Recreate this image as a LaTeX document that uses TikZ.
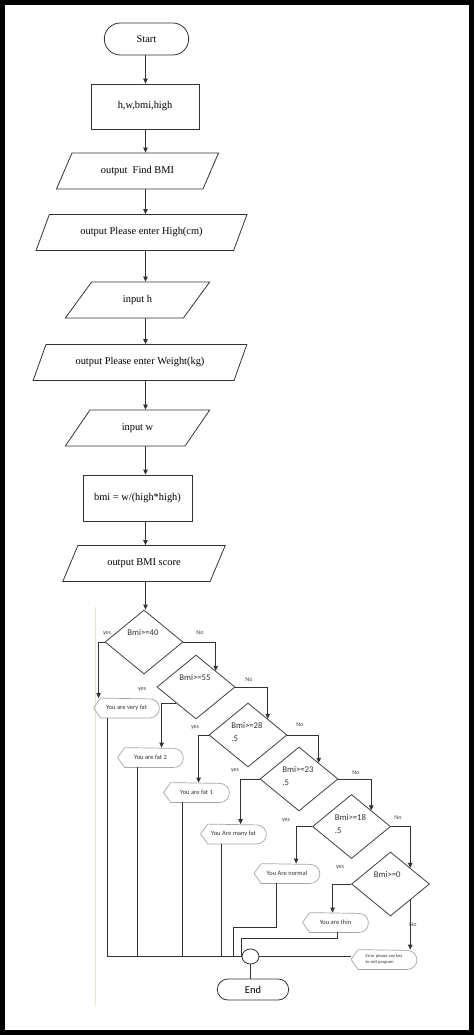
\documentclass[tikz,border=0pt]{standalone}
\usepackage{fontspec}
\setmainfont{Liberation Serif}
\newfontfamily\calibri{Carlito}
\usepackage{tikz}
\usetikzlibrary{shapes,arrows.meta,positioning}

\begin{document}
\begin{tikzpicture}[
  x=1pt, y=-1pt,
  >={Triangle[length=5pt,width=4.5pt]},
  line width=0.8pt,
  term/.style={rounded rectangle, draw=black!80, font=\fontsize{10.4}{12}\selectfont},
  proc/.style={rectangle, draw=black!80, font=\fontsize{10.4}{12}\selectfont},
  io/.style={trapezium, trapezium left angle=52, trapezium right angle=128,
             trapezium stretches=true,
             draw=black!80, minimum height=36pt, inner sep=1pt,
             font=\fontsize{10.4}{12}\selectfont},
  decision/.style={diamond, draw=black!75, minimum width=78pt, minimum height=64pt, inner sep=0pt},
  dtext/.style={anchor=north west, inner sep=0pt, align=left, text=black!80,
                font=\calibri\fontsize{8.7}{13}\selectfont},
  disp/.style={minimum width=65pt, minimum height=19pt, inner sep=0pt, text=black!80,
               font=\calibri\fontsize{6.5}{7}\selectfont},
  displine/.style={draw=black!35, line width=0.7pt},
  lbl/.style={inner sep=0pt, text=black!75, font=\calibri\fontsize{6}{7}\selectfont},
  arr/.style={->, draw=black!80},
  link/.style={draw=black!80}
]
\useasboundingbox (0,0) rectangle (474,1035);
\draw[line width=5pt, fill=white] (2.5,2.5) rectangle (471.5,1032.5);
\draw[draw={rgb,255:red,246;green,226;blue,180}, line width=0.8pt] (95,607) -- (95,1005);

% --- Input part ---
\node[term, minimum width=91pt, minimum height=32pt] (start) at (146.5,39) {Start};
\node[proc, minimum width=108pt, minimum height=45pt] (vars) at (145,106.5) {h,w,bmi,high};
\node[io, minimum width=163pt] (find)   at (137.5,171)   {output\ \ Find BMI};
\node[io, minimum width=211pt] (high)   at (141.5,232.5) {output Please enter High(cm)};
\node[io, minimum width=145pt] (inh)    at (137.5,300)   {input h};
\node[io, minimum width=214pt] (weight) at (140,362.5)   {output Please enter Weight(kg)};
\node[io, minimum width=145pt] (inw)    at (137.5,428)   {input w};
\node[proc, minimum width=109pt, minimum height=46pt] (calc) at (137.5,498) {bmi = w/(high*high)};
\node[io, minimum width=164pt] (score)  at (144,563.5)   {output BMI score};

% --- Decisions ---
\node[decision] (d1) at (144,642)     {};
\node[decision] (d2) at (196,687)     {};
\node[decision] (d3) at (248,735)     {};
\node[decision] (d4) at (299,779)     {};
\node[decision] (d5) at (351.5,826.5) {};
\node[decision] (d6) at (390.5,884)   {};

\node[dtext] (t1) at ([xshift=-17pt,yshift=12.5pt]d1.center) {Bmi>=40};
\node[dtext] (t2) at ([xshift=-17pt,yshift=12.5pt]d2.center) {Bmi>=55};
\node[dtext] (t3) at ([xshift=-17pt,yshift=12.5pt]d3.center) {Bmi>=28\\.5};
\node[dtext] (t4) at ([xshift=-17pt,yshift=12.5pt]d4.center) {Bmi>=23\\.5};
\node[dtext] (t5) at ([xshift=-17pt,yshift=12.5pt]d5.center) {Bmi>=18\\.5};
\node[dtext] (t6) at ([xshift=-17pt,yshift=12.5pt]d6.center) {Bmi>=0};

% --- Outputs ---
\node[disp] (vfat)   at (126.5,708)   {You are very fat};
\node[disp] (fat2)   at (150.5,757.5) {You are fat 2};
\node[disp] (fat1)   at (196.5,792.5) {You are fat 1};
\node[disp] (many)   at (233.5,834)   {You Are many fat};
\node[disp] (normal) at (287,873.5)   {You Are normal};
\node[disp] (thin)   at (335.5,922.5) {You are thin};
\node[disp, align=left, font=\calibri\fontsize{4.5}{6.5}\selectfont] (err) at (384,959.5)
  {Error please any key\\to exit program};

\foreach \n in {vfat,fat2,fat1,many,normal,thin,err}
  \draw[displine] ([xshift=7pt]\n.north west) -- (\n.west) -- ([xshift=7pt]\n.south west)
    -- ([xshift=-9.5pt]\n.south east) arc[start angle=-90, end angle=90, radius=9.5pt] -- cycle;

\node[ellipse, draw=black!80, minimum width=17pt, minimum height=15pt, inner sep=0pt] (jn) at (250.5,956.5) {};
\node[term, minimum width=78pt, minimum height=21pt, font=\calibri\fontsize{10.5}{12}\selectfont] (end) at (253,989.5) {End};

% --- Labels ---
\node[lbl] (y1) at (107,634) {yes};
\node[lbl] (n1) at (200,633) {No};
\node[lbl] (y2) at (142,690) {yes};
\node[lbl] (n2) at (249,680) {No};
\node[lbl] (y3) at (195,728) {yes};
\node[lbl] (n3) at (300,725) {No};
\node[lbl] (y4) at (235,771) {yes};
\node[lbl] (n4) at (356,773) {No};
\node[lbl] (y5) at (286,821) {yes};
\node[lbl] (n5) at (398,818) {No};
\node[lbl] (y6) at (340,868) {yes};
\node[lbl] (n6) at (413,925) {No};

% --- Flow ---
\coordinate (axis) at (145.5,0);
\foreach \a/\b in {start/vars, vars/find, find/high, high/inh, inh/weight,
                   weight/inw, inw/calc, calc/score, score/d1}
  \draw[arr] (\a.south -| axis) -- (\b.north -| axis);

\foreach \a/\b in {d1/d2, d2/d3, d3/d4, d4/d5, d5/d6}
  \draw[arr] (\a.east) -| (\b.north east);

\draw[arr] (d1.west) -| ([xshift=5pt]vfat.north west);
\draw[arr] (d2.south west) -| ([xshift=44pt]fat2.north west);
\draw[arr] (d3.west) -| ([xshift=35pt]fat1.north west);
\draw[arr] (d4.west) -| ([xshift=40pt]many.north west);
\draw[arr] (d5.west) -| ([xshift=42pt]normal.north west);
\draw[arr] (d6.west) -| ([xshift=30pt]thin.north west);
\draw[arr] (d6.south east) -- (d6.south east |- err.north);

\draw[link] ([xshift=14pt]vfat.south west) |- (jn.west);
\draw[link] ([xshift=20pt]fat2.south west) |- (jn.west);
\draw[link] ([xshift=19pt]fat1.south west) |- (jn.west);
\draw[link] ([xshift=21pt]many.south west) |- (jn.west);
\draw[link] ([xshift=22pt]normal.south west) -- ++(0,44) -| ([xshift=-8pt]jn.west);
\draw[link] ([xshift=35pt]thin.south west) -- ++(0,6) -| (jn.west);
\draw[link] (err.west |- jn.east) -- (jn.east);
\draw[link] (jn.south) -- (jn.south |- end.north);

\end{tikzpicture}
\end{document}
